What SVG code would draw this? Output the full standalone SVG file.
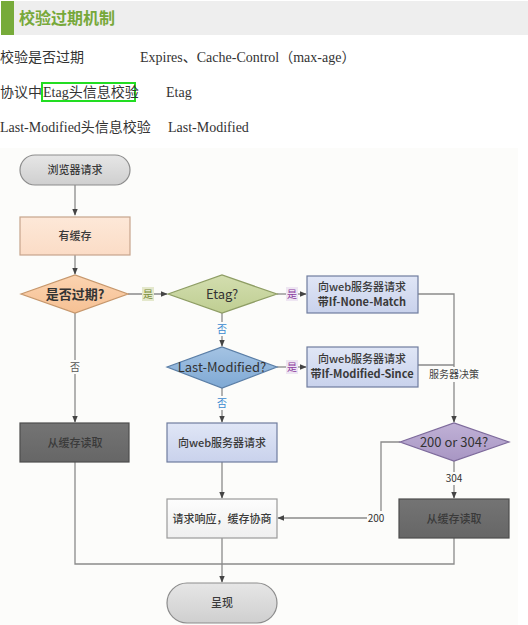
<svg xmlns="http://www.w3.org/2000/svg" width="528" height="625" viewBox="0 0 528 625">
<defs>
<style>
.t{font-family:"Liberation Serif","Noto Sans CJK SC",serif;font-size:14px;fill:#333}
.n{font-family:"Noto Sans CJK SC","Noto Sans",sans-serif;font-size:11px;fill:#3a3a3a;text-anchor:middle;font-weight:500}
.b{font-weight:bold}
.d{font-family:"Noto Sans CJK SC","Noto Sans",sans-serif;font-size:13px;fill:#333;text-anchor:middle}
.c{fill:none;stroke:#8a8a8a;stroke-width:1.3}
.lb{font-family:"Noto Sans CJK SC","Noto Sans",sans-serif;font-size:10px;text-anchor:middle}
</style>
<marker id="ah" viewBox="0 0 10 10" refX="9" refY="5" markerWidth="7" markerHeight="7" orient="auto" markerUnits="userSpaceOnUse">
<path d="M0,1 L10,5 L0,9 Z" fill="#444"/>
</marker>
<linearGradient id="gGray" x1="0" y1="0" x2="0" y2="1"><stop offset="0" stop-color="#e6e6e6"/><stop offset="1" stop-color="#cfcfcf"/></linearGradient>
<linearGradient id="gPeach" x1="0" y1="0" x2="0" y2="1"><stop offset="0" stop-color="#fde8d8"/><stop offset="1" stop-color="#fbdcc6"/></linearGradient>
<linearGradient id="gOrange" x1="0" y1="0" x2="0" y2="1"><stop offset="0" stop-color="#fbd3b0"/><stop offset="1" stop-color="#f6c194"/></linearGradient>
<linearGradient id="gOlive" x1="0" y1="0" x2="0" y2="1"><stop offset="0" stop-color="#d3deaf"/><stop offset="1" stop-color="#bfce92"/></linearGradient>
<linearGradient id="gBlue" x1="0" y1="0" x2="0" y2="1"><stop offset="0" stop-color="#a4c3e3"/><stop offset="1" stop-color="#7fa9d4"/></linearGradient>
<linearGradient id="gLav" x1="0" y1="0" x2="0" y2="1"><stop offset="0" stop-color="#e0e6f6"/><stop offset="1" stop-color="#c9d2ec"/></linearGradient>
<linearGradient id="gPurple" x1="0" y1="0" x2="0" y2="1"><stop offset="0" stop-color="#c0b1d6"/><stop offset="1" stop-color="#a896c3"/></linearGradient>
<linearGradient id="gDark" x1="0" y1="0" x2="0" y2="1"><stop offset="0" stop-color="#747474"/><stop offset="1" stop-color="#666"/></linearGradient>
<linearGradient id="gWhite" x1="0" y1="0" x2="0" y2="1"><stop offset="0" stop-color="#fdfdfd"/><stop offset="1" stop-color="#efefef"/></linearGradient>
</defs>
<rect width="528" height="625" fill="#fff"/>
<g id="header">
<rect x="1" y="1" width="527" height="34" fill="#eeeeee"/>
<rect x="1" y="1" width="13" height="34" fill="#77ab3a"/>
<text x="19" y="24" font-family="Noto Sans CJK SC,sans-serif" font-size="16" font-weight="bold" fill="#77a83a">校验过期机制</text>
</g>
<g id="intro">
<text class="t" x="0" y="62">校验是否过期</text>
<text class="t" x="140" y="62" fill="#444">Expires、Cache-Control（max-age）</text>
<text class="t" x="0" y="97">协议中</text>
<rect x="42" y="83" width="93" height="18" fill="none" stroke="#22dd22" stroke-width="2"/>
<text class="t" x="43" y="97">Etag头信息校验</text>
<text class="t" x="166" y="97" fill="#444">Etag</text>
<text class="t" x="0" y="132">Last-Modified头信息校验</text>
<text class="t" x="168" y="132" fill="#444">Last-Modified</text>
</g>
<rect x="0" y="148" width="518" height="477" fill="#fcfcfa"/>
<g id="connectors">
<path class="c" d="M75,185 V215" marker-end="url(#ah)"/>
<path class="c" d="M75,255 V274" marker-end="url(#ah)"/>
<path class="c" d="M128,294 H167" marker-end="url(#ah)"/>
<path class="c" d="M277,294 H306" marker-end="url(#ah)"/>
<path class="c" d="M222,313 V346" marker-end="url(#ah)"/>
<path class="c" d="M277,367 H306" marker-end="url(#ah)"/>
<path class="c" d="M75,313 V422" marker-end="url(#ah)"/>
<path class="c" d="M222,388 V422" marker-end="url(#ah)"/>
<path class="c" d="M418,294 H454 V422" marker-end="url(#ah)"/>
<path class="c" d="M417,365 H454"/>
<path class="c" d="M222,462 V498" marker-end="url(#ah)"/>
<path class="c" d="M454,461 V498" marker-end="url(#ah)"/>
<path class="c" d="M400,442 H381 V518 H278" marker-end="url(#ah)"/>
<path class="c" d="M75,462 V564 H454 V538"/>
<path class="c" d="M222,538 V582" marker-end="url(#ah)"/>
<rect x="142" y="287" width="12" height="14" fill="#e4e8cc"/>
<text class="lb" x="148" y="298" fill="#7a8d3a">是</text>
<rect x="286" y="287" width="12" height="14" fill="#eee6f2"/>
<text class="lb" x="292" y="298" fill="#8b3aa0">是</text>
<rect x="286" y="360" width="12" height="14" fill="#eee6f2"/>
<text class="lb" x="292" y="371" fill="#8b3aa0">是</text>
<rect x="216" y="322" width="12" height="14" fill="#fcfcfa"/>
<text class="lb" x="222" y="333" fill="#3a8ad0">否</text>
<rect x="216" y="396" width="12" height="14" fill="#fcfcfa"/>
<text class="lb" x="222" y="407" fill="#3a8ad0">否</text>
<rect x="69" y="360" width="12" height="14" fill="#fcfcfa"/>
<text class="lb" x="75" y="371" fill="#555">否</text>
<rect x="426" y="367" width="56" height="15" fill="#fcfcfa"/>
<text class="lb" x="454" y="378" fill="#444" font-size="11">服务器决策</text>
<rect x="445" y="472" width="18" height="13" fill="#fcfcfa"/>
<text class="lb" x="454" y="482" fill="#333">304</text>
<rect x="367" y="511" width="18" height="13" fill="#fcfcfa"/>
<text class="lb" x="376" y="522" fill="#333">200</text>
</g>
<g id="n-browser">
<rect x="20" y="155" width="110" height="30" rx="15" fill="url(#gGray)" stroke="#8c8c8c" stroke-width="1.2"/>
<text class="n" x="75" y="174">浏览器请求</text>
</g>
<g id="n-cache">
<rect x="20" y="217" width="110" height="38" fill="url(#gPeach)" stroke="#c6a48c" stroke-width="1.2"/>
<text class="n" x="75" y="240">有缓存</text>
</g>
<g id="n-expired">
<polygon points="21,294 75,275 128,294 75,313" fill="url(#gOrange)" stroke="#c6976c" stroke-width="1.2"/>
<text class="d" x="75" y="299" font-weight="bold" fill="#3a2a1a">是否过期?</text>
</g>
<g id="n-etag">
<polygon points="168,294 222,275 277,294 222,313" fill="url(#gOlive)" stroke="#8e9d64" stroke-width="1.2"/>
<text class="d" x="222" y="299">Etag?</text>
</g>
<g id="n-inm">
<rect x="307" y="276" width="111" height="37" fill="url(#gLav)" stroke="#6f7c9e" stroke-width="1.2"/>
<text class="n" x="362" y="291">向web服务器请求</text>
<text class="n b" x="362" y="306">带If-None-Match</text>
</g>
<g id="n-lm">
<polygon points="167,367 222,347 277,367 222,388" fill="url(#gBlue)" stroke="#5a7ea6" stroke-width="1.2"/>
<text class="d" x="222" y="372" font-size="12">Last-Modified?</text>
</g>
<g id="n-ims">
<rect x="307" y="347" width="111" height="40" fill="url(#gLav)" stroke="#6f7c9e" stroke-width="1.2"/>
<text class="n" x="362" y="363">向web服务器请求</text>
<text class="n b" x="362" y="378" font-size="10">带If-Modified-Since</text>
</g>
<g id="n-readcache1">
<rect x="20" y="423" width="109" height="39" fill="url(#gDark)" stroke="#4d4d4d" stroke-width="1.2"/>
<text class="n" x="75" y="447" fill="#2e2e2e">从缓存读取</text>
</g>
<g id="n-request">
<rect x="167" y="423" width="110" height="39" fill="url(#gLav)" stroke="#6f7c9e" stroke-width="1.2"/>
<text class="n" x="222" y="447">向web服务器请求</text>
</g>
<g id="n-status">
<polygon points="400,442 454,423 509,442 454,461" fill="url(#gPurple)" stroke="#7d6a9b" stroke-width="1.2"/>
<text class="d" x="454" y="447" font-size="14">200 or 304?</text>
</g>
<g id="n-negotiate">
<rect x="167" y="499" width="110" height="39" fill="url(#gWhite)" stroke="#9a9a9a" stroke-width="1.2"/>
<text class="n" x="222" y="523">请求响应，缓存协商</text>
</g>
<g id="n-readcache2">
<rect x="399" y="499" width="110" height="39" fill="url(#gDark)" stroke="#4d4d4d" stroke-width="1.2"/>
<text class="n" x="454" y="523" fill="#2e2e2e">从缓存读取</text>
</g>
<g id="n-render">
<rect x="167" y="583" width="110" height="40" rx="20" fill="url(#gGray)" stroke="#8c8c8c" stroke-width="1.2"/>
<text class="n" x="222" y="607">呈现</text>
</g>
</svg>
